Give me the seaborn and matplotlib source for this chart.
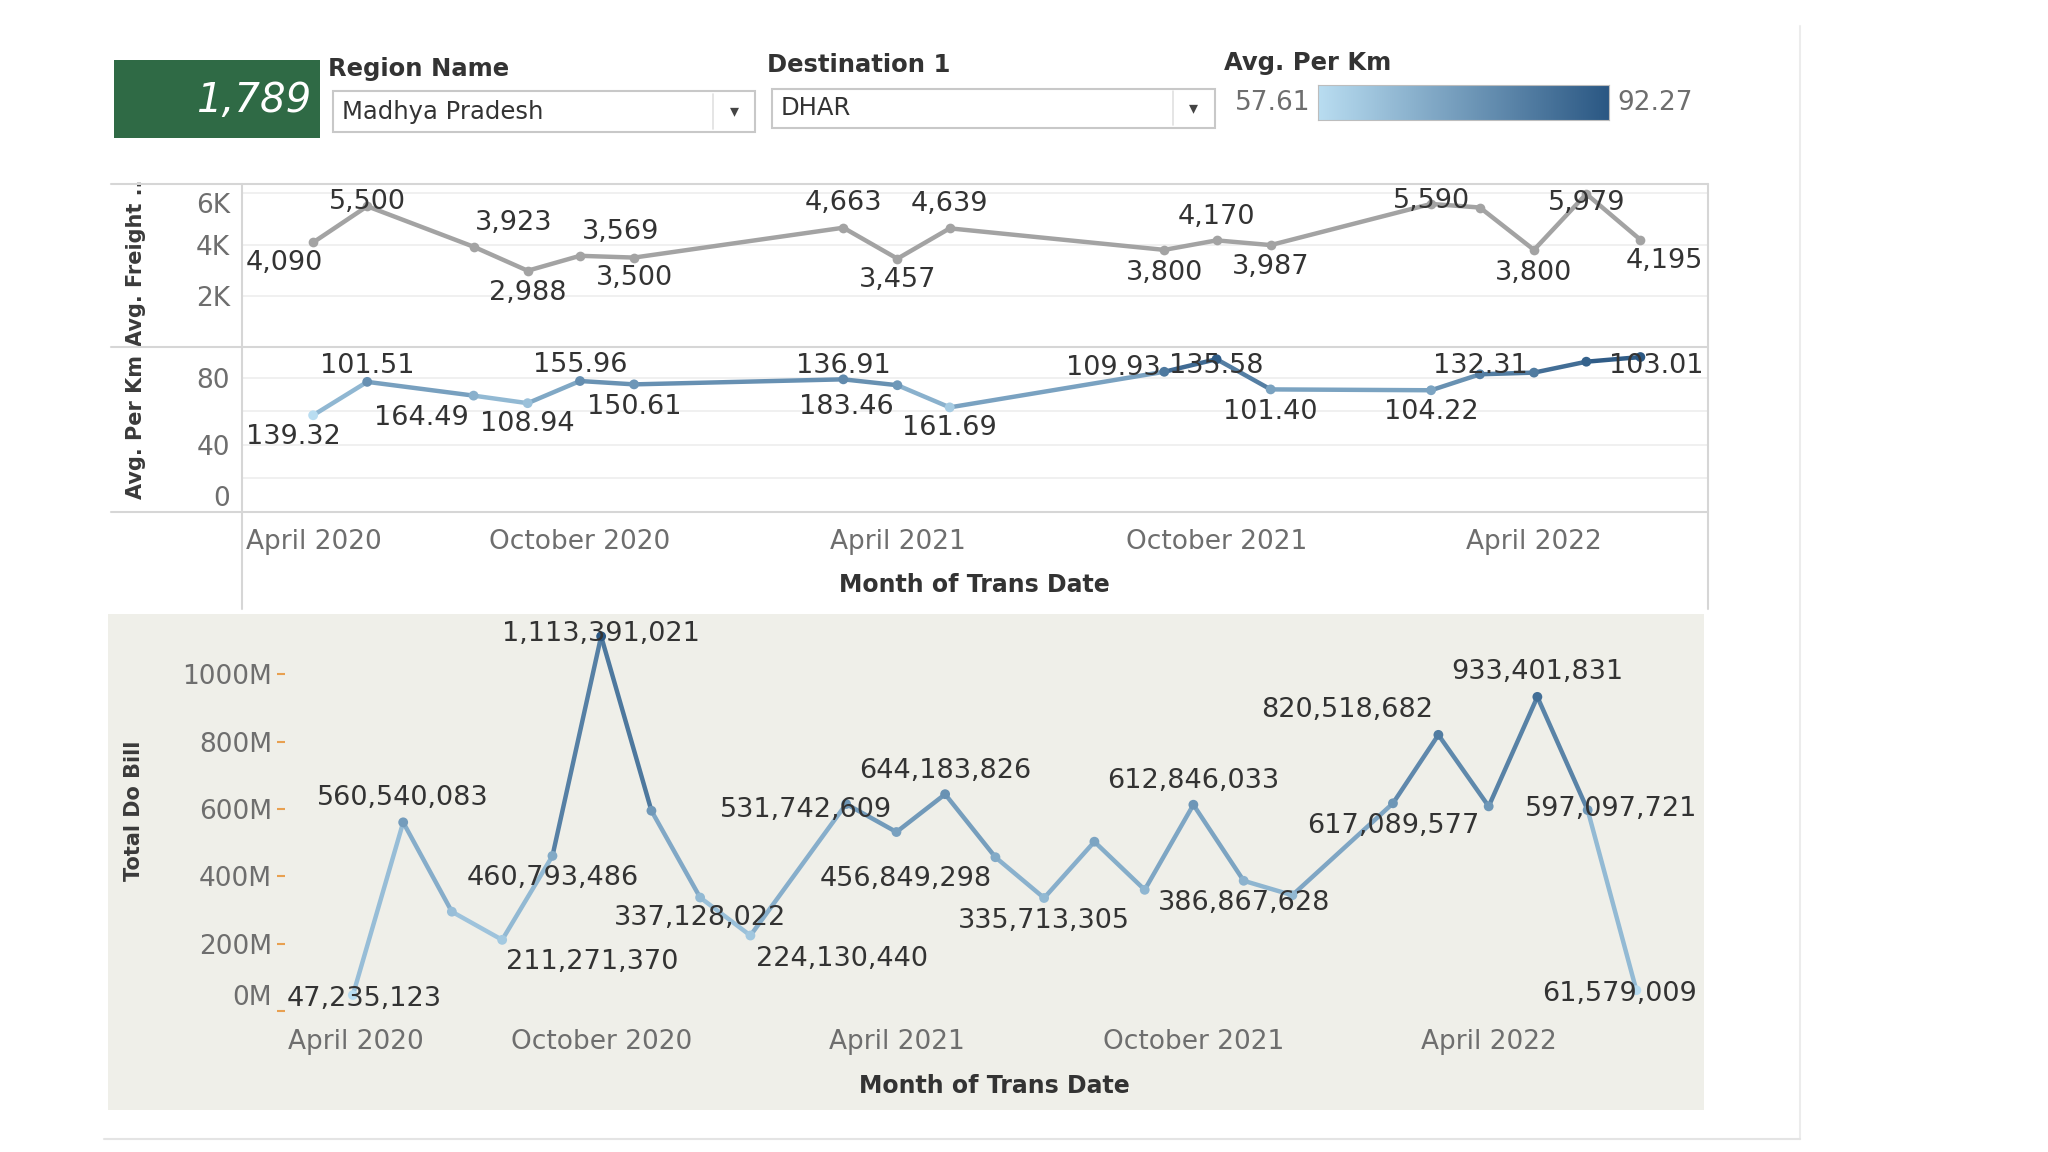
import numpy as np
import pandas as pd
import matplotlib
matplotlib.use("Agg")
import matplotlib.pyplot as plt
import matplotlib.dates as mdates
from matplotlib.colors import LinearSegmentedColormap, Normalize
from matplotlib.patches import Rectangle
from matplotlib.lines import Line2D
from matplotlib.transforms import ScaledTranslation
import seaborn as sns

# ---- values ----
fr_months = ['2020-05', '2020-06', '2020-08', '2020-09', '2020-10', '2020-11',
             '2021-03', '2021-04', '2021-05', '2021-09', '2021-10', '2021-11',
             '2022-02', '2022-03', '2022-04', '2022-05', '2022-06']
avg_freight = [4090, 5500, 3923, 2988, 3569, 3500, 4663, 3457, 4639, 3800, 4170, 3987,
               5590, 5450, 3800, 5979, 4195]
avg_per_km = [57.61, 77.5, 69.3, 64.8, 78.0, 76.0, 79.0, 75.5, 62.3, 83.5, 91.0, 73.0,
              72.5, 82.0, 83.0, 89.5, 92.27]
km_labels = ['139.32', '101.51', '164.49', '108.94', '155.96', '150.61', '136.91', '183.46',
             '161.69', '109.93', '135.58', '101.40', '104.22', '132.31', '', '', '103.01']

bill_months = ['2020-05', '2020-06', '2020-07', '2020-08', '2020-09', '2020-10', '2020-11',
               '2020-12', '2021-01', '2021-03', '2021-04', '2021-05', '2021-06', '2021-07',
               '2021-08', '2021-09', '2021-10', '2021-11', '2021-12', '2022-02', '2022-03',
               '2022-04', '2022-05', '2022-06', '2022-07']
total_do_bill = [47235123, 560540083, 295000000, 211271370, 460793486, 1113391021, 595000000,
                 337128022, 224130440, 615000000, 531742609, 644183826, 456849298, 335713305,
                 503000000, 360000000, 612846033, 386867628, 344000000, 617089577, 820518682,
                 608000000, 933401831, 597097721, 61579009]

tick_months = ['2020-04', '2020-10', '2021-04', '2021-10', '2022-04']
tick_names = ['April 2020', 'October 2020', 'April 2021', 'October 2021', 'April 2022']

# label offsets (reference px: dx, dy down); None = no label
fr_off = [(-22, 16), (0, -3), (31, -18), (0, 17), (31, -18), (0, 16), (0, -19), (0, 16),
          (0, -19), (0, 18), (0, -18), (0, 17), (0, -2), None, (0, 18), (0, 7), (18, 16)]
km_off = [(-15, 17), (0, -12), (-40, 17), (0, 16), (0, -12), (0, 17), (0, -10), (-39, 17),
          (0, 16), (-39, -3), (0, 5), (0, 17), (0, 17), (0, -6), None, None, (12, 7)]
bill_off = [(9, 3), (0, -19), None, (69, 17), (0, 17), (0, -2), None, (0, 16), (70, 18), None,
            (-69, -17), (0, -18), (-69, 17), (0, 18), None, None, (0, -18), (0, 17), None,
            (0, 17), (-70, -19), None, (0, -19), (18, -1), (-13, 3)]

W, H = 1568, 882          # reference layout grid
PX = 0.94                 # points per reference px


def fx(x):
    return x / W


def fy(y):
    return 1 - y / H


def rect(x0, y0, x1, y1):
    return [fx(x0), fy(y1), (x1 - x0) / W, (y1 - y0) / H]


sns.set_style("white")
plt.rcParams['font.family'] = ['DejaVu Sans']

blues = LinearSegmentedColormap.from_list('tab_blue', ['#b9ddf1', '#2a5783'])
grey_txt = '#6e6e6e'
dark_txt = '#333333'

fig = plt.figure(figsize=(20.48, 11.52), dpi=100)

xf = mdates.date2num(pd.to_datetime(fr_months))
xb = mdates.date2num(pd.to_datetime(bill_months))
xt = mdates.date2num(pd.to_datetime(tick_months))

# ---- header ----
fig.add_artist(Rectangle((fx(87), fy(106)), 158 / W, 60 / H, transform=fig.transFigure,
                         facecolor='#2f6a45', edgecolor='none'))
fig.text(fx(238), fy(77), '1,789', ha='right', va='center', color='white',
         fontsize=29, fontstyle='italic')

for title, tx, ty, box, div, value in [
        ('Region Name', 251, 53, (255, 70, 578, 101), 546, 'Madhya Pradesh'),
        ('Destination 1', 587, 50, (591, 68, 930, 98), 898, 'DHAR')]:
    fig.text(fx(tx), fy(ty), title, ha='left', va='center', fontsize=17.5,
             fontweight='bold', color=dark_txt)
    x0, y0, x1, y1 = box
    fig.add_artist(Rectangle((fx(x0), fy(y1)), (x1 - x0) / W, (y1 - y0) / H,
                             transform=fig.transFigure, facecolor='white',
                             edgecolor='#c8c8c8', lw=1.5))
    fig.add_artist(Line2D([fx(div)] * 2, [fy(y0 + 2), fy(y1 - 2)], color='#e0e0e0', lw=1.2))
    fig.text(fx(x0 + 7), fy((y0 + y1) / 2), value, ha='left', va='center',
             fontsize=17.5, color=dark_txt)
    fig.text(fx((div + x1) / 2), fy((y0 + y1) / 2), '\u25BE', ha='center', va='center',
             fontsize=13, color='#444444')

fig.text(fx(937), fy(48), 'Avg. Per Km', ha='left', va='center', fontsize=17.5,
         fontweight='bold', color=dark_txt)
km_norm = Normalize(min(avg_per_km), max(avg_per_km))
fig.text(fx(1003), fy(79), f'{min(avg_per_km):.2f}', ha='right', va='center',
         fontsize=19, color=grey_txt)
fig.text(fx(1238), fy(79), f'{max(avg_per_km):.2f}', ha='left', va='center',
         fontsize=19, color=grey_txt)
ax_leg = fig.add_axes(rect(1009, 65, 1232, 92))
ax_leg.imshow(np.linspace(0, 1, 256)[None, :], aspect='auto', cmap=blues)
ax_leg.set_xticks([])
ax_leg.set_yticks([])
for s in ax_leg.spines.values():
    s.set_color('#bdbdbd')

# ---- frame lines of the upper dual pane ----
line_c = '#d6d6d6'
for yy in [141, 266, 392]:
    fig.add_artist(Line2D([fx(85), fx(1308)], [fy(yy)] * 2, color=line_c, lw=1.5))
for xx in [185, 1308]:
    fig.add_artist(Line2D([fx(xx)] * 2, [fy(141), fy(466)], color=line_c, lw=1.5))
# page border
fig.add_artist(Line2D([fx(1378)] * 2, [fy(20), fy(872)], color='#ececec', lw=1.5))
fig.add_artist(Line2D([fx(80), fx(1378)], [fy(872)] * 2, color='#e4e4e4', lw=1.5))

# lower panel background
fig.add_artist(Rectangle((fx(83), fy(850)), 1222 / W, 380 / H, transform=fig.transFigure,
                         facecolor='#efefe9', edgecolor='none', zorder=-5))

ax_fr = fig.add_axes(rect(185, 141, 1308, 266))
ax_km = fig.add_axes(rect(185, 266, 1308, 392))
ax_bill = fig.add_axes(rect(218, 478, 1305, 778))
for ax in (ax_fr, ax_km, ax_bill):
    ax.set_facecolor('none')
    for s in ax.spines.values():
        s.set_visible(False)


def put_labels(ax, x, y, texts, offs):
    for xi, yi, t, o in zip(x, y, texts, offs):
        if o is None:
            continue
        ax.annotate(t, (xi, yi), xytext=(o[0] * PX, -o[1] * PX), textcoords='offset points',
                    ha='center', va='center', fontsize=19.5, color=dark_txt, zorder=6,
                    annotation_clip=False)


def gradient_line(ax, x, y, norm):
    for i in range(len(x) - 1):
        c = blues(norm((y[i] + y[i + 1]) / 2))
        ax.plot(x[i:i + 2], y[i:i + 2], color=c, lw=3.2, solid_capstyle='round', zorder=3)
    sns.scatterplot(x=x, y=y, hue=y, palette=blues, hue_norm=norm, s=50, linewidth=0,
                    legend=False, ax=ax, zorder=4)


# ---- Avg. Freight ----
sns.lineplot(x=xf, y=avg_freight, color='#a3a3a3', lw=3.2, marker='o', markersize=7,
             markeredgewidth=0, ax=ax_fr, zorder=3)
put_labels(ax_fr, xf, avg_freight, [f'{v:,}' for v in avg_freight], fr_off)
ax_fr.set_ylim(0, 6360)
ax_fr.set_yticks([2000, 4000, 6000], ['2K', '4K', '6K'])
ax_fr.get_yticklabels()[-1].set_va('top')
ax_fr.grid(axis='y', color='#ededed', lw=1.2)
ax_fr.set_ylabel('Avg. Freight ..', fontsize=15, fontweight='bold', color='#3a3a3a')
ax_fr.yaxis.set_label_coords(-0.065, 0.52)

# ---- Avg. Per Km ----
gradient_line(ax_km, xf, avg_per_km, km_norm)
put_labels(ax_km, xf, avg_per_km, km_labels, km_off)
ax_km.set_ylim(0, 98)
ax_km.set_yticks([0, 40, 80])
ax_km.set_yticks([20, 60], minor=True)
ax_km.grid(axis='y', which='both', color='#ededed', lw=1.2)
ax_km.get_yticklabels()[0].set_va('bottom')
ax_km.set_ylabel('Avg. Per Km', fontsize=15, fontweight='bold', color='#3a3a3a')
ax_km.yaxis.set_label_coords(-0.065, 0.516)

for ax in (ax_fr, ax_km):
    ax.set_xlim(mdates.date2num(pd.Timestamp('2020-03-21')),
                mdates.date2num(pd.Timestamp('2022-07-10')))
    ax.set_xticks(xt)
    ax.tick_params(axis='y', which='both', length=0, pad=8.5, labelsize=19,
                   labelcolor=grey_txt)
    ax.set_axisbelow(True)
ax_fr.set_xticklabels([])
ax_fr.tick_params(axis='x', length=0)
ax_km.set_xticklabels(tick_names)
ax_km.tick_params(axis='x', length=4, color='#d6d6d6', pad=8, labelsize=19,
                  labelcolor=grey_txt)
ax_km.set_xlabel('Month of Trans Date', fontsize=17, fontweight='bold', color=dark_txt)
ax_km.xaxis.set_label_coords(0.4996, -0.373)

# ---- Total Do Bill ----
bill_norm = Normalize(min(total_do_bill), max(total_do_bill))
gradient_line(ax_bill, xb, total_do_bill, bill_norm)
put_labels(ax_bill, xb, total_do_bill, [f'{v:,}' for v in total_do_bill], bill_off)
ax_bill.set_ylim(-15.5e6, 1149e6)
bill_ticks = [0, 200e6, 400e6, 600e6, 800e6, 1000e6]
ax_bill.set_yticks(bill_ticks, [f'{v / 1e6:.0f}M' for v in bill_ticks])
ax_bill.get_yticklabels()[0].set_va('bottom')
ax_bill.tick_params(axis='y', length=5.5, width=1.5, color='#e8a050', pad=3.5,
                    labelsize=19, labelcolor=grey_txt, left=True)
ax_bill.set_xlim(mdates.date2num(pd.Timestamp('2020-03-20')),
                 mdates.date2num(pd.Timestamp('2022-08-12')))
ax_bill.set_xticks(xt, tick_names)
ax_bill.tick_params(axis='x', length=0, pad=9.5, labelsize=19, labelcolor=grey_txt)
ax_bill.set_ylabel('Total Do Bill', fontsize=15, fontweight='bold', color='#3a3a3a')
ax_bill.yaxis.set_label_coords(-0.0994, 0.523)
ax_bill.set_xlabel('Month of Trans Date', fontsize=17, fontweight='bold', color=dark_txt)
ax_bill.xaxis.set_label_coords(0.4995, -0.147)

# first month label sits left-aligned inside the pane, as in the dashboard
for ax, dx in [(ax_km, -10.5), (ax_bill, -11.5)]:
    lab = ax.get_xticklabels()[0]
    lab.set_ha('left')
    lab.set_transform(lab.get_transform() + ScaledTranslation(dx / 72, 0, fig.dpi_scale_trans))

fig.savefig('out.png', dpi=100, facecolor='white')
